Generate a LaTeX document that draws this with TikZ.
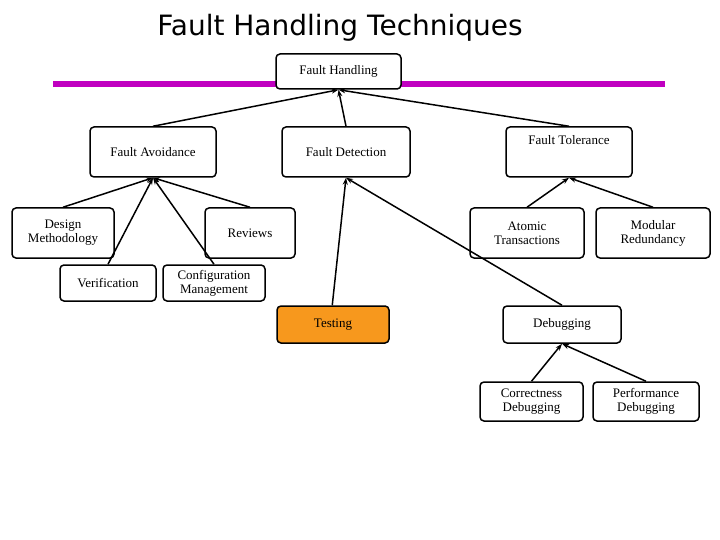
\documentclass[tikz,border=0pt]{standalone}
\usepackage{fontspec}
\setmainfont{Liberation Serif}
\newfontfamily\titlefont{DejaVu Sans}
\usetikzlibrary{arrows.meta}
\begin{document}
\begin{tikzpicture}[x=1pt,y=-1pt,
  box/.style={draw,line width=1.5pt,rounded corners=4pt,align=center,font=\fontsize{13}{14}\selectfont,inner sep=0pt},
  arr/.style={-{Stealth[length=7pt,width=5pt]},line width=1.5pt}]
\useasboundingbox (0,0) rectangle (720,540);
\node[font=\titlefont\fontsize{28}{32}\selectfont] (title) at (340,28) {Fault Handling Techniques};
\draw[line width=6pt,color={rgb,255:red,192;green,0;blue,192}] (53,84) -- (665,84);
\newcommand{\bx}[6]{\node[box,minimum width=#4-#2,minimum height=#5-#3,#6] (#1) at ({(#2+#4)/2},{(#3+#5)/2})}
\bx{fh}{276}{54}{401}{89}{fill=white}{Fault Handling};
\bx{fa}{90}{127}{216}{177}{}{Fault Avoidance};
\bx{fd}{282}{127}{410}{177}{}{Fault Detection};
\bx{ft}{506}{127}{632}{177}{text depth=24pt}{Fault Tolerance};
\bx{dm}{12}{208}{114}{258}{}{Design\\Methodology};
\bx{rv}{205}{208}{295}{258}{}{Reviews};
\bx{at}{470}{208}{584}{258}{}{Atomic\\Transactions};
\bx{mr}{596}{208}{710}{258}{}{Modular\\Redundancy};
\bx{vf}{60}{265}{156}{301}{}{Verification};
\bx{cm}{163}{265}{265}{301}{}{Configuration\\Management};
\bx{te}{277}{306}{389}{343}{fill={rgb,255:red,247;green,152;blue,29}}{Testing};
\bx{db}{503}{306}{621}{343}{}{Debugging};
\bx{cd}{480}{382}{583}{421}{}{Correctness\\Debugging};
\bx{pd}{593}{382}{699}{421}{}{Performance\\Debugging};
\draw[arr] (fa.north) -- (fh.south);
\draw[arr] (fd.north) -- (fh.south);
\draw[arr] (ft.north) -- (fh.south);
\draw[arr] (dm.north) -- (fa.south);
\draw[arr] (vf.north) -- (fa.south);
\draw[arr] (cm.north) -- (fa.south);
\draw[arr] (rv.north) -- (fa.south);
\draw[arr] (te.north west) ++(56,0) -- (fd.south);
\draw[arr] (db.north) -- (fd.south);
\draw[arr] (at.north) -- (ft.south);
\draw[arr] (mr.north) -- (ft.south);
\draw[arr] (cd.north) -- (db.south);
\draw[arr] (pd.north) -- (db.south);
\end{tikzpicture}
\end{document}
